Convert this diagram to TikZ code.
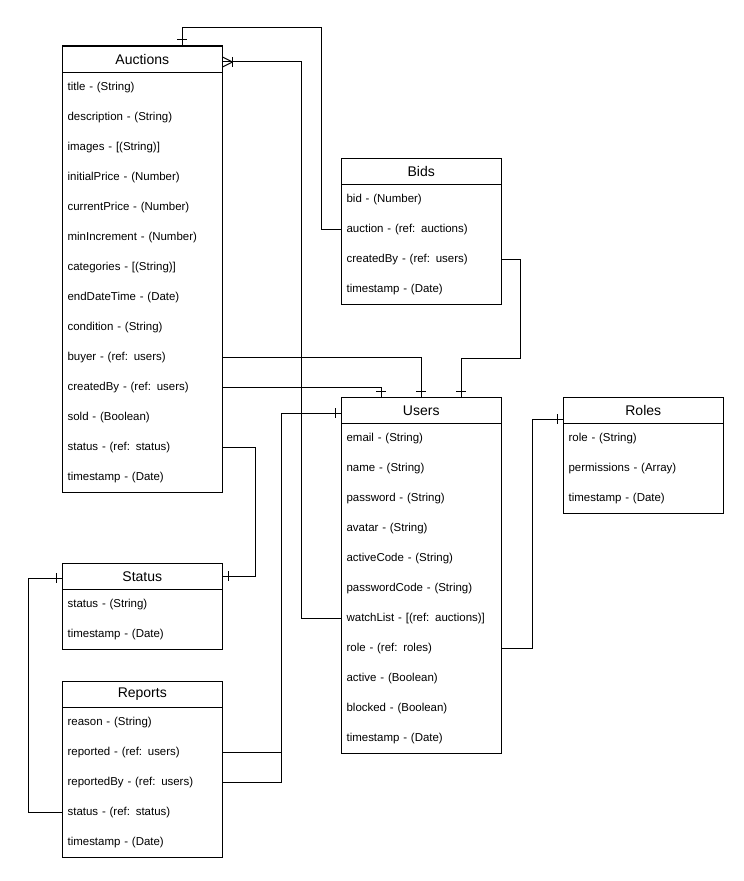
\documentclass[tikz,border=0pt]{standalone}
\usepackage{fontspec}
\setmainfont{Liberation Sans}
\usetikzlibrary{calc}
\tikzset{
 hdr/.style={draw,inner xsep=0pt,inner ysep=0pt,minimum width=120pt,minimum height=19.5pt,font=\fontsize{10.5}{12}\selectfont},
 row/.style={inner xsep=4pt,inner ysep=0pt,text width=112pt,minimum height=22.5pt,align=left,font=\fontsize{8.6}{10}\selectfont},
 conn/.style={draw,line width=0.75pt},
 tick/.style={draw,line width=0.75pt}
}
\newcommand\etab[6]{%
 \node[hdr,anchor=north west] (#1) at (#2,#3) {#4};
 \foreach \t [count=\i] in {#5} {\node[row,anchor=north west] (#1-\i) at (#2,#3+26+30*\i-30) {\t};}
 \draw[line width=0.75pt] (#1.north west) rectangle (#1-#6.south east);
}
\begin{document}
\begin{tikzpicture}[x=0.75pt,y=-0.75pt]
\path[use as bounding box,fill=white] (0,0) rectangle (743,881);
\etab{auc}{62}{46}{Auctions}{{title - (String)},{description - (String)},{images - [(String)]},{initialPrice - (Number)},{currentPrice - (Number)},{minIncrement - (Number)},{categories - [(String)]},{endDateTime - (Date)},{condition - (String)},{buyer - (ref: users)},{createdBy - (ref: users)},{sold - (Boolean)},{status - (ref: status)},{timestamp - (Date)}}{14}
\etab{bid}{341}{158}{Bids}{{bid - (Number)},{auction - (ref: auctions)},{createdBy - (ref: users)},{timestamp - (Date)}}{4}
\etab{usr}{341}{397}{Users}{{email - (String)},{name - (String)},{password - (String)},{avatar - (String)},{activeCode - (String)},{passwordCode - (String)},{watchList - [(ref: auctions)]},{role - (ref: roles)},{active - (Boolean)},{blocked - (Boolean)},{timestamp - (Date)}}{11}
\etab{rol}{563}{397}{Roles}{{role - (String)},{permissions - (Array)},{timestamp - (Date)}}{3}
\etab{sta}{62}{563}{Status}{{status - (String)},{timestamp - (Date)}}{2}
\etab{rep}{62}{681}{Reports}{{reason - (String)},{reported - (ref: users)},{reportedBy - (ref: users)},{status - (ref: status)},{timestamp - (Date)}}{5}

% coordinates on boxes
\coordinate (aTop) at ($(auc.north west)+(120,0)$);
\coordinate (aR) at ($(auc.north east)+(0,16)$);
\coordinate (u1) at ($(usr.north west)+(40,0)$);
\coordinate (u2) at ($(usr.north west)+(80,0)$);
\coordinate (u3) at ($(usr.north west)+(120,0)$);
\coordinate (uL) at ($(usr.north west)+(0,16)$);
\coordinate (rL) at ($(rol.north west)+(0,22)$);
\coordinate (sR) at ($(sta.north east)+(0,13)$);
\coordinate (sL) at ($(sta.north west)+(0,15)$);

% Bids.auction -> Auctions top
\draw[conn] (bid-2.west) -- ++(-20,0) |- ($(aTop)+(0,-18)$) -- (aTop);
\draw[tick] ($(aTop)+(-5,-6)$) -- ++(10,0);
% Users.watchList -> Auctions right (many)
\draw[conn] (usr-7.west) -- ++(-40,0) |- (aR);
\draw[tick] ($(aR)+(10,-5)$) -- ++(0,10);
\draw[tick] ($(aR)+(10,0)$) -- ($(aR)+(0,-5)$) ($(aR)+(10,0)$) -- ($(aR)+(0,5)$);
% Auctions.buyer -> Users
\draw[conn] (auc-10.east) -| (u2);
\draw[tick] ($(u2)+(-5,-6)$) -- ++(10,0);
% Auctions.createdBy -> Users
\draw[conn] (auc-11.east) -| (u1);
\draw[tick] ($(u1)+(-5,-6)$) -- ++(10,0);
% Bids.createdBy -> Users
\draw[conn] (bid-3.east) -- ++(19,0) |- ($(u3)+(0,-39)$) -- (u3);
\draw[tick] ($(u3)+(-5,-6)$) -- ++(10,0);
% Users.role -> Roles
\draw[conn] (usr-8.east) -- ++(31,0) |- (rL);
\draw[tick] ($(rL)+(-6,-5)$) -- ++(0,10);
% Auctions.status -> Status
\draw[conn] (auc-13.east) -- ++(33,0) |- (sR);
\draw[tick] ($(sR)+(6,-5)$) -- ++(0,10);
% Reports.status -> Status
\draw[conn] (rep-4.west) -- ++(-34,0) |- (sL);
\draw[tick] ($(sL)+(-6,-5)$) -- ++(0,10);
% Reports.reported / reportedBy -> Users
\draw[conn] (rep-2.east) -- ++(59,0) |- (uL);
\draw[conn] (rep-3.east) -- ++(59,0) -- ++(0,-30);
\draw[tick] ($(uL)+(-6,-5)$) -- ++(0,10);
\end{tikzpicture}
\end{document}
